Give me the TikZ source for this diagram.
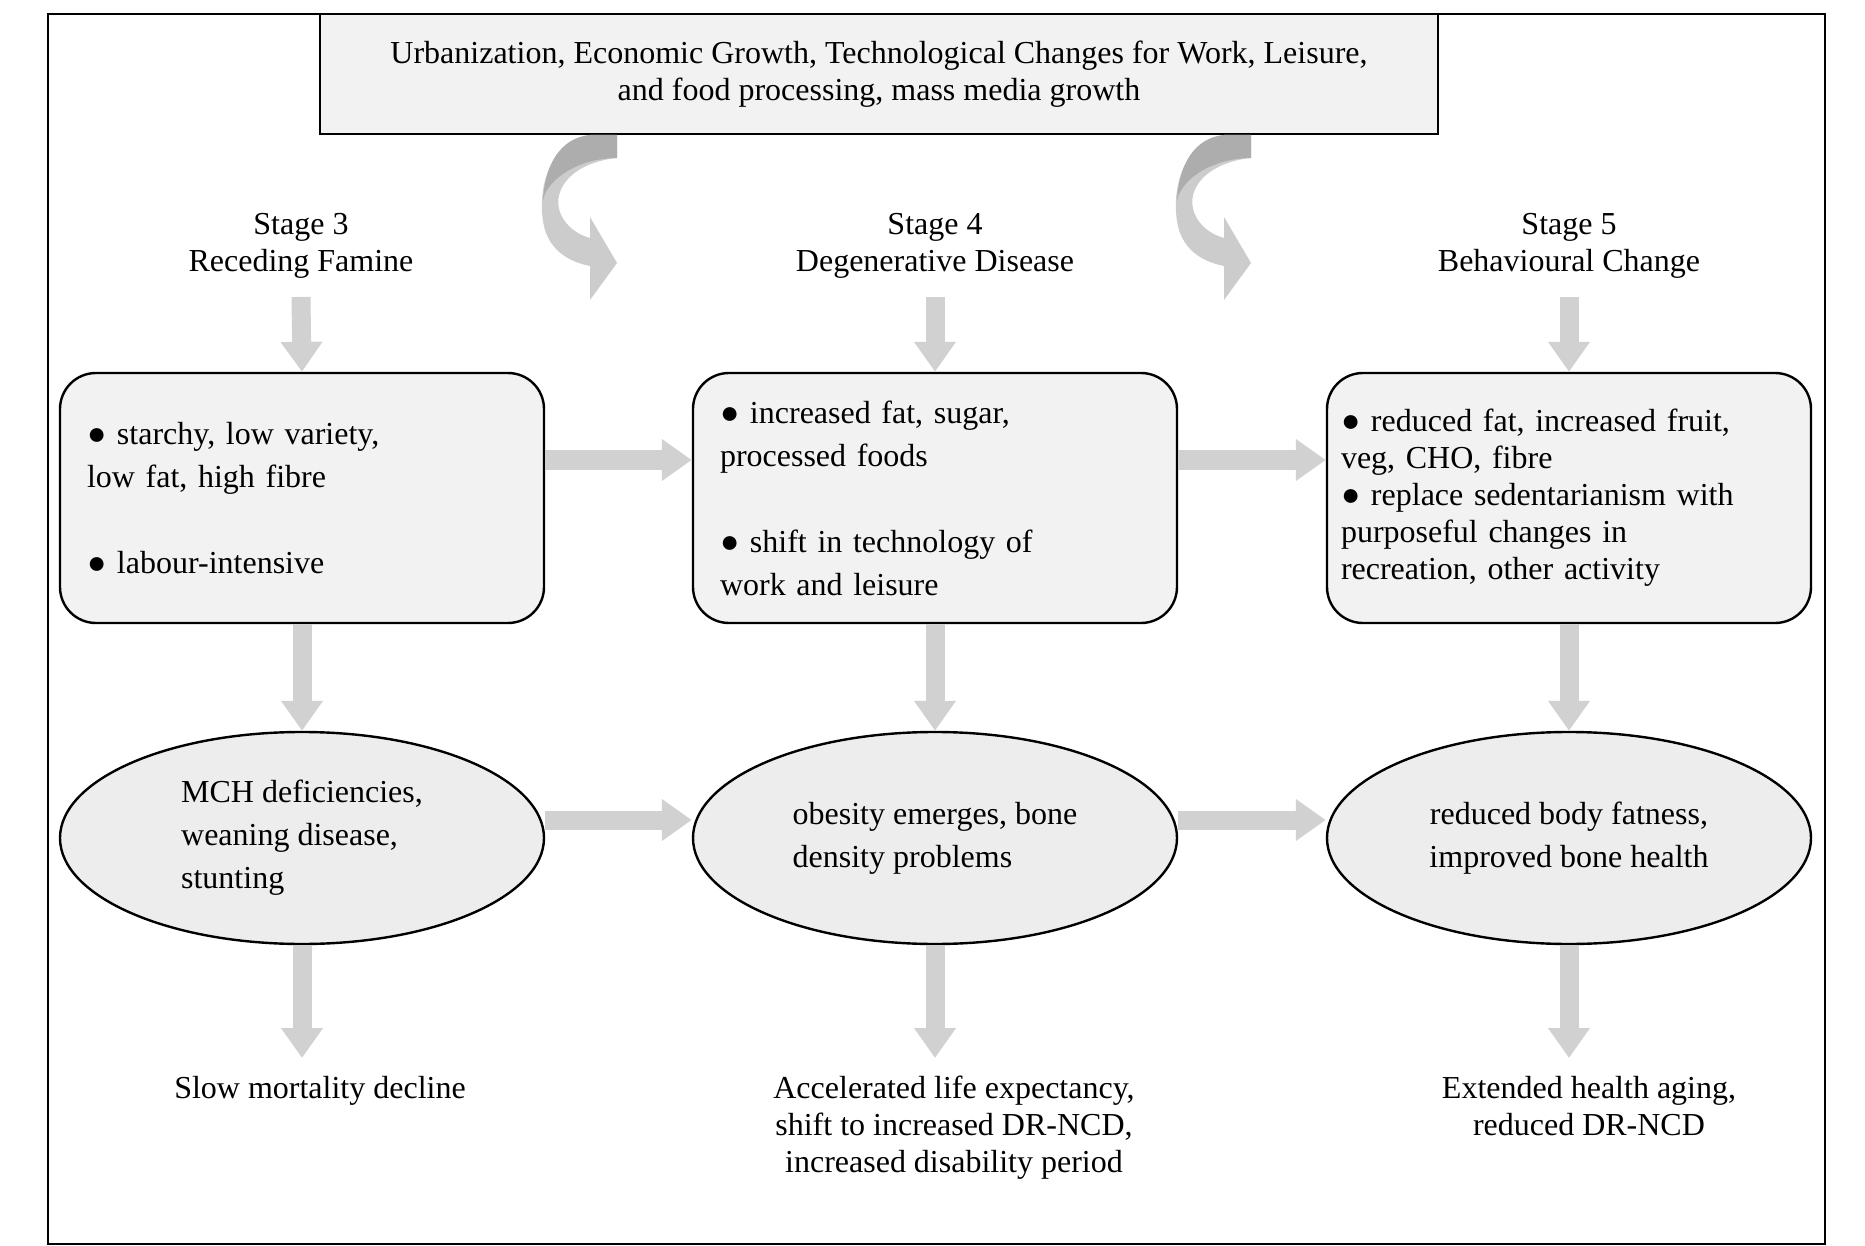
\documentclass[tikz,border=0pt]{standalone}
\usepackage{fontspec}
\setmainfont{Liberation Serif}
\usetikzlibrary{arrows.meta,shapes.geometric}
\begin{document}
\begin{tikzpicture}[x=0.5pt,y=-0.5pt,
  txt/.style={font=\fontsize{16}{18.5}\selectfont, align=center, inner sep=0pt},
  box/.style={draw, line width=1.2pt, fill=black!5, rounded corners=18pt, minimum width=242pt, minimum height=125pt, align=left, text width=215pt, font=\fontsize{16}{21.5}\selectfont, inner sep=0pt},
  ell/.style={ellipse, draw, line width=1.2pt, fill=black!7, minimum width=242pt, minimum height=106pt, inner sep=0pt, align=left, font=\fontsize{16}{21.5}\selectfont},
  garrow/.style={draw=black!18, line width=9.5pt, -{Triangle[width=20pt,length=15pt]}, shorten >=0pt},
  carrow/.style={fill=black!20, draw=none}]
\useasboundingbox (0,0) rectangle (1865,1246);
\draw[line width=1.2pt] (48,14) rectangle (1825,1244);
\node[draw, line width=1.2pt, fill=black!5, minimum width=559pt, minimum height=60pt, txt] (top) at (879,74) {Urbanization, Economic Growth, Technological Changes for Work, Leisure,\\and food processing, mass media growth};
% curved arrows
\foreach \dx/\nm in {0/c1,634/c2}{
\begin{scope}[xshift=\dx*0.5pt]
\fill[black!20] (617,135) -- (590,135) .. controls (548,140) and (535,195) .. (545,230) .. controls (553,255) and (575,263) .. (590,266) -- (590,300) -- (617,263) -- (590,217) -- (590,238) .. controls (568,232) and (553,212) .. (560,192) .. controls (568,170) and (595,160) .. (617,158) -- cycle;
\fill[black!32] (617,135) -- (590,135) .. controls (560,138) and (545,165) .. (543,200) .. controls (548,178) and (580,158) .. (617,158) -- cycle;
\end{scope}}
% stage labels
\node[txt] (s3) at (301,246) {Stage 3\\Receding Famine};
\node[txt] (s4) at (935,246) {Stage 4\\Degenerative Disease};
\node[txt] (s5) at (1569,246) {Stage 5\\Behavioural Change};
% boxes
\node[box] (b1) at (302,498) {● starchy, low variety,\\low fat, high fibre\\[21.5pt]● labour-intensive};
\node[box] (b2) at (935,498) {● increased fat, sugar,\\processed foods\\[21.5pt]● shift in technology of\\work and leisure};
\node[box, text width=228pt, font=\fontsize{16}{18.5}\selectfont] (b3) at (1569,498) {● reduced fat, increased fruit,\\veg, CHO, fibre\\● replace sedentarianism with\\purposeful changes in\\recreation, other activity};
% ellipses
\node[ell] (e1) at (302,838) {MCH deficiencies,\\weaning disease,\\stunting};
\node[ell] (e2) at (935,838) {obesity emerges, bone\\density problems};
\node[ell, align=center] (e3) at (1569,838) {reduced body fatness,\\improved bone health};
% bottom texts
\node[txt, anchor=north] (o1) at (320,1076) {Slow mortality decline};
\node[txt, anchor=north] (o2) at (954,1076) {Accelerated life expectancy,\\shift to increased DR-NCD,\\increased disability period};
\node[txt, anchor=north] (o3) at (1589,1076) {Extended health aging,\\reduced DR-NCD};
% arrows
\foreach \s/\b in {s3/b1,s4/b2,s5/b3}{
  \draw[garrow] ([yshift=-9pt]\s.south) -- (\b.north);}
\foreach \b/\e in {b1/e1,b2/e2,b3/e3}{
  \draw[garrow] (\b.south) -- (\e.north);}
\foreach \e/\o in {e1/o1,e2/o2,e3/o3}{
  \draw[garrow] (\e.south) -- ([yshift=9pt]\e.south |- \o.north);}
\draw[garrow] ([yshift=19pt]b1.east) -- ([yshift=19pt]b2.west);
\draw[garrow] ([yshift=19pt]b2.east) -- ([yshift=19pt]b3.west);
\draw[garrow] ([yshift=9pt]e1.east) -- ([yshift=9pt]e2.west);
\draw[garrow] ([yshift=9pt]e2.east) -- ([yshift=9pt]e3.west);
\end{tikzpicture}
\end{document}
